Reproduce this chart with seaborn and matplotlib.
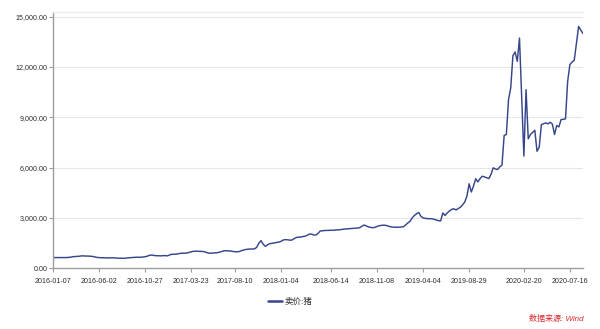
import matplotlib
matplotlib.use("Agg")
import matplotlib.pyplot as plt
import matplotlib.ticker as mticker
import seaborn as sns
import pandas as pd
import numpy as np

# ---- data (weekly) ----
start_date = "2016-01-07"
price_pig = [
    640, 640, 640, 640, 640, 640, 640, 650, 660, 690,            # 0-9
    700, 710, 720, 740, 740, 730, 730, 720, 710, 680,            # 10-19
    650, 640, 630, 630, 620, 620, 620, 630, 620, 610,            # 20-29
    600, 600, 595, 600, 620, 630, 640, 650, 660, 660,            # 30-39
    660, 670, 690, 720, 770, 790, 770, 750, 750, 740,            # 40-49
    750, 760, 740, 780, 830, 840, 840, 860, 890, 900,            # 50-59
    900, 910, 940, 980, 1010, 1020, 1020, 1010, 1010, 990,       # 60-69
    950, 910, 900, 910, 920, 930, 960, 1000, 1040, 1050,         # 70-79
    1040, 1030, 1010, 990, 980, 1000, 1050, 1090, 1120, 1140,    # 80-89
    1150, 1150, 1160, 1250, 1500, 1650, 1430, 1310, 1400, 1470,  # 90-99
    1490, 1510, 1540, 1560, 1600, 1680, 1710, 1700, 1680, 1680,  # 100-109
    1760, 1830, 1860, 1860, 1890, 1910, 1960, 2040, 2040, 1990,  # 110-119
    1980, 2080, 2220, 2240, 2250, 2260, 2260, 2270, 2270, 2280,  # 120-129
    2290, 2300, 2320, 2340, 2350, 2360, 2370, 2380, 2390, 2400,  # 130-139
    2420, 2500, 2580, 2530, 2470, 2440, 2420, 2440, 2500, 2540,  # 140-149
    2560, 2570, 2560, 2520, 2480, 2460, 2450, 2450, 2450, 2460,  # 150-159
    2480, 2580, 2700, 2800, 3000, 3150, 3250, 3330, 3100, 3000,  # 160-169
    2980, 2960, 2960, 2950, 2920, 2880, 2840, 2830, 3300, 3150,  # 170-179
    3300, 3420, 3510, 3550, 3480, 3560, 3640, 3780, 3950, 4300,  # 180-189
    5040, 4550, 4900, 5340, 5150, 5350, 5490, 5450, 5400, 5350,  # 190-199
    5600, 5990, 5920, 5890, 6050, 6150, 7920, 7980, 10060, 10760,  # 200-209
    12680, 12900, 12340, 13730, 10200, 6690, 10650, 7720, 7980, 8100,  # 210-219
    8230, 6980, 7220, 8570, 8620, 8670, 8610, 8710, 8600, 7980,  # 220-229
    8510, 8430, 8870, 8880, 8910, 11150, 12140, 12300, 12400, 13400,  # 230-239
    14420, 14200, 14000,                                         # 240-242
]
series_label = "卖价:猪"
tick_labels = ["2016-01-07", "2016-06-02", "2016-10-27", "2017-03-23",
               "2017-08-10", "2018-01-04", "2018-06-14", "2018-11-08",
               "2019-04-04", "2019-08-29", "2020-02-20", "2020-07-16"]
y_ticks = [0, 3000, 6000, 9000, 12000, 15000]
source_text = "数据来源: Wind"

dates = pd.date_range(start_date, periods=len(price_pig), freq="7D")
df = pd.DataFrame({"date": dates, "price": price_pig})

# ---- style ----
sns.set_theme(style="white")
plt.rcParams["font.family"] = ["Liberation Sans", "Noto Sans CJK SC", "DejaVu Sans"]

LINE = "#37468b"
AXIS = "#9d9d9d"
GRID = "#e6e6e6"
TXT = "#2b2b2b"

fig = plt.figure(figsize=(6.0, 3.29), dpi=100)
ax = fig.add_axes([53 / 600, 1 - 268.3 / 329, 530 / 600, (268.3 - 11.7) / 329])

sns.lineplot(data=df, x="date", y="price", ax=ax, color=LINE,
             linewidth=1.05, label=series_label)

ax.set_xlim(dates[0], dates[-1])
ax.set_ylim(0, 15300)
ax.set_yticks(y_ticks)
ax.yaxis.set_major_formatter(mticker.FuncFormatter(lambda v, p: f"{v:,.2f}"))
ax.set_xticks(pd.to_datetime(tick_labels))
ax.set_xticklabels(tick_labels)
ax.set_xlabel("")
ax.set_ylabel("")

ax.grid(axis="y", color=GRID, linewidth=0.8)
ax.grid(axis="x", visible=False)
ax.set_axisbelow(True)

for side in ["left", "bottom"]:
    ax.spines[side].set_color(AXIS)
    ax.spines[side].set_linewidth(1.0)
ax.spines["top"].set_color("#ececec")
ax.spines["top"].set_linewidth(0.8)
ax.spines["right"].set_visible(False)

ax.tick_params(axis="both", which="both", labelsize=5.1, colors=AXIS,
               labelcolor=TXT, length=3, width=0.8, direction="out")
ax.tick_params(axis="y", pad=1.0, left=True)
ax.tick_params(axis="x", pad=4.0, bottom=True)

handles, labels = ax.get_legend_handles_labels()
ax.get_legend().remove()
leg = fig.legend(handles, labels, loc="center left",
                 bbox_to_anchor=(268 / 600, 1 - 302.3 / 329),
                 frameon=False, borderpad=0, borderaxespad=0,
                 handlelength=1.6, handletextpad=0.4,
                 prop={"size": 6.1})
for t in leg.get_texts():
    t.set_color(TXT)
for h in leg.legend_handles:
    h.set_linewidth(1.8)

fig.text(584 / 600, 1 - 319 / 329, source_text, color="#d9262c",
         fontsize=5.8, style="italic", ha="right", va="center")

fig.savefig("out.png", dpi=100, facecolor="white")
